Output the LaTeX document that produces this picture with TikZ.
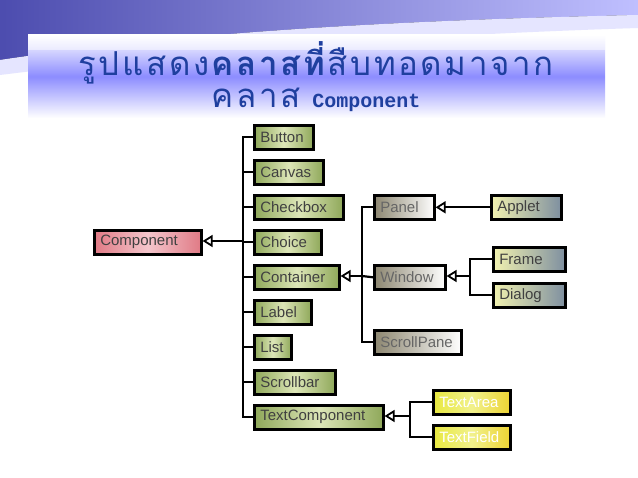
\documentclass[tikz,border=0pt]{standalone}
\usepackage{fontspec}
\setmainfont{Liberation Sans}
\newfontfamily\thaifont[Script=Thai,LetterSpace=8]{Loma}
\newfontfamily\monof{Liberation Mono}
\usetikzlibrary{arrows.meta}
\definecolor{tblue}{HTML}{1F3F9F}
\definecolor{gr}{HTML}{8FA85A}
\definecolor{grl}{HTML}{DDE6B8}
\definecolor{pk}{HTML}{E07A85}
\definecolor{pkl}{HTML}{F4C6CC}
\definecolor{brn}{HTML}{8C8670}
\definecolor{bg}{HTML}{7E8FA0}
\definecolor{yl}{HTML}{F2F2B0}
\definecolor{yel}{HTML}{E8E840}
\tikzset{
 box/.style={draw=black,line width=2.6pt,anchor=north west,inner sep=0pt,font=\fontsize{15}{16}\selectfont,text=black!75},
 greenbox/.style={box,left color=gr,right color=gr,middle color=grl},
 pinkbox/.style={box,left color=pk,right color=pk,middle color=pkl},
 graybox/.style={box,left color=brn,right color=white,text=black!60},
 bluebox/.style={box,left color=yl,right color=bg},
 yelbox/.style={box,left color=yel,right color=yel!80!orange,middle color=yel!60!white,text=white},
 link/.style={line width=2.2pt,black},
 inh/.style={link,-{Triangle[open,length=10pt,width=12pt,line width=1.8pt]}}
}
\begin{document}
\begin{tikzpicture}[x=1pt,y=-1pt]
\useasboundingbox (0,0) rectangle (638,478);
\fill[white] (0,0) rectangle (638,478);
\fill[left color=blue!55!black!70, right color=blue!25!white] (0,0) -- (638,0) -- (638,15) .. controls (420,20) and (200,30) .. (0,60) -- cycle;
\fill[blue!10!white] (0,60) .. controls (200,30) and (420,20) .. (638,15) -- (638,28) .. controls (420,35) and (200,50) .. (0,75) -- cycle;
\shade[top color=white, bottom color=white, middle color=blue!45!white] (28,35) rectangle (605,118);
\fill[white,opacity=0.5] (28,35) rectangle (605,50);
\node[text=tblue,font=\thaifont\fontsize{33}{36}\selectfont] (t1) at (316,63) {รูปแสดง\textbf{คลาสที่}สืบทอดมาจาก};
\node[text=tblue] (t2) at (316,100) {{\thaifont\fontsize{33}{36}\selectfont คลาส}\hspace{12pt}{\monof\bfseries\fontsize{20}{22}\selectfont Component}};
\def\bx#1#2#3#4#5#6{\node[#2,minimum width=#5-#3,minimum height=24,text width=#5-#3-12,align=left,inner xsep=6] (#1) at (#3,#4) {#6};}
\bx{button}{greenbox}{253}{124}{312}{Button}
\bx{canvas}{greenbox}{253}{159}{322}{Canvas}
\bx{checkbox}{greenbox}{253}{194}{342}{Checkbox}
\bx{choice}{greenbox}{253}{229}{320}{Choice}
\bx{container}{greenbox}{253}{264}{338}{Container}
\bx{label}{greenbox}{253}{299}{310}{Label}
\bx{list}{greenbox}{253}{334}{290}{List}
\bx{scrollbar}{greenbox}{253}{369}{334}{Scrollbar}
\bx{textcomp}{greenbox}{253}{404}{382}{TextComponent}
\bx{component}{pinkbox}{93}{229}{200}{Component}
\bx{panel}{graybox}{373}{194}{433}{Panel}
\bx{window}{graybox}{373}{264}{444}{Window}
\bx{scrollpane}{graybox}{373}{329}{460}{ScrollPane}
\bx{applet}{bluebox}{490}{194}{560}{Applet}
\bx{frame}{bluebox}{492}{246}{564}{Frame}
\bx{dialog}{bluebox}{492}{282}{564}{Dialog}
\bx{textarea}{yelbox}{432}{389}{509}{TextArea}
\bx{textfield}{yelbox}{432}{424}{509}{TextField}
% component tree
\coordinate (tr) at (243,241);
\draw[link] (button.west) -| (tr) |- (textcomp.west);
\foreach \n in {canvas,checkbox,choice,container,label,list,scrollbar}
  \draw[link] (\n.west) -- (\n.west -| tr);
\draw[inh] (tr) -- (tr -| component.east);
% container tree
\coordinate (ct) at (362,276);
\draw[link] (panel.west) -| (ct) |- (scrollpane.west);
\draw[link] (window.west) -- (ct);
\draw[inh] (ct) -- (ct -| container.east);
\draw[inh] (applet.west) -- (panel.east);
% window tree
\coordinate (wt) at (470,276);
\draw[link] (frame.west) -| (wt) |- (dialog.west);
\draw[inh] (wt) -- (wt -| window.east);
% text tree
\coordinate (xt) at (410,416);
\draw[link] (textarea.west) -| (xt) |- (textfield.west);
\draw[inh] (xt) -- (xt -| textcomp.east);
\end{tikzpicture}
\end{document}
